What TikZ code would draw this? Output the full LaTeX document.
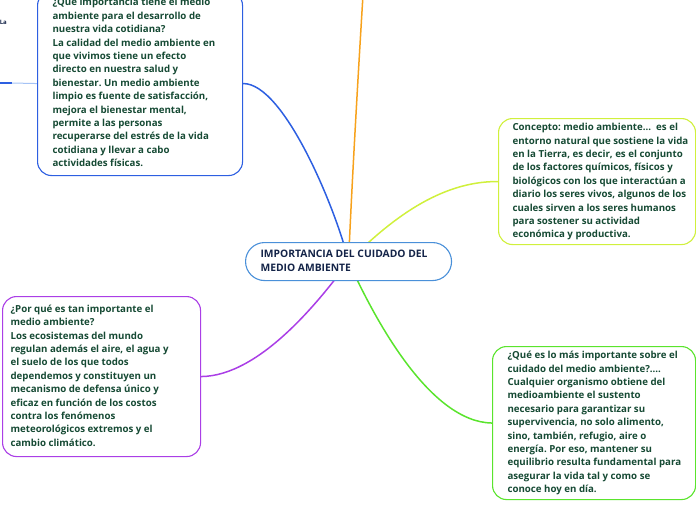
\documentclass[tikz,border=0pt]{standalone}
\usepackage{fontspec}
\setmainfont{Open Sans}
\usetikzlibrary{backgrounds}
\frenchspacing
\definecolor{txtgreen}{RGB}{22,74,52}
\definecolor{txtnavy}{RGB}{20,36,72}
\definecolor{cborder}{RGB}{74,144,217}
\definecolor{bblue}{RGB}{45,95,225}
\definecolor{lblue}{RGB}{165,195,245}
\definecolor{corange}{RGB}{247,162,28}
\definecolor{cyellow}{RGB}{208,240,60}
\definecolor{cgreen}{RGB}{90,228,45}
\definecolor{cpurple}{RGB}{170,62,230}
\newcommand\boxtext[2]{\makebox[#1][l]{\begin{tabular}{@{}l@{}}#2\end{tabular}}}
\tikzset{
  box/.style={draw, line width=1.1pt, rounded corners=14pt, fill=white,
    anchor=north west, text=txtgreen, inner ysep=0pt,
    font=\bfseries\fontsize{9.7}{13.4}\selectfont},
  conn/.style={line width=1.5pt},
}
\begin{document}
\begin{tikzpicture}[x=1pt,y=-1pt]
\useasboundingbox (0,0) rectangle (696,520);

\node[box, draw=cborder, text=txtnavy, rounded corners=19pt, inner xsep=15pt,
  minimum width=206pt, minimum height=38pt,
  font=\bfseries\fontsize{10.3}{14}\selectfont] (c) at (245,242)
  {\boxtext{176pt}{IMPORTANCIA DEL CUIDADO DEL\\MEDIO AMBIENTE}};

\node[box, draw=bblue, inner xsep=15pt, minimum width=205pt,
  minimum height=184pt] (tl) at (37,-9)
  {\boxtext{175pt}{¿Qué importancia tiene el medio\\ambiente para el desarrollo de\\nuestra vida cotidiana?\\La calidad del medio ambiente en\\que vivimos tiene un efecto\\directo en nuestra salud y\\bienestar. Un medio ambiente\\limpio es fuente de satisfacción,\\mejora el bienestar mental,\\permite a las personas\\recuperarse del estrés de la vida\\cotidiana y llevar a cabo\\actividades físicas.}};

\node[box, draw=cyellow, inner xsep=14pt, minimum width=197pt,
  minimum height=126pt] (tr) at (498,118)
  {\boxtext{169pt}{Concepto: medio ambiente...\ \ es el\\entorno natural que sostiene la vida\\en la Tierra, es decir, es el conjunto\\de los factores químicos, físicos y\\biológicos con los que interactúan a\\diario los seres vivos, algunos de los\\cuales sirven a los seres humanos\\para sostener su actividad\\económica y productiva.}};

\node[box, draw=cgreen, inner xsep=15pt, minimum width=203pt,
  minimum height=153pt] (br) at (492,346)
  {\boxtext{173pt}{¿Qué es lo más importante sobre el\\cuidado del medio ambiente?....\\Cualquier organismo obtiene del\\medioambiente el sustento\\necesario para garantizar su\\supervivencia, no solo alimento,\\sino, también, refugio, aire o\\energía. Por eso, mantener su\\equilibrio resulta fundamental para\\asegurar la vida tal y como se\\conoce hoy en día.}};

\node[box, draw=cpurple, inner xsep=8pt, minimum width=198pt,
  minimum height=160pt] (bl) at (2,296)
  {\boxtext{182pt}{¿Por qué es tan importante el\\medio ambiente?\\Los ecosistemas del mundo\\regulan además el aire, el agua y\\el suelo de los que todos\\dependemos y constituyen un\\mecanismo de defensa único y\\eficaz en función de los costos\\contra los fenómenos\\meteorológicos extremos y el\\cambio climático.}};

\node[anchor=east, font=\bfseries\fontsize{6}{7}\selectfont, text=txtnavy, inner sep=0pt] (la) at (7,22) {La};

\coordinate (otop) at (363,-5);
\coordinate (lend) at (0,83);
\coordinate (lmid) at (12,83);

\begin{scope}[on background layer]
  \draw[conn, bblue] (c.center) .. controls (338,215) and (285,83) .. (tl.east);
  \draw[conn, corange] (c.center) .. controls (352,180) and (359,60) .. (otop);
  \draw[conn, cyellow] (c.center) .. controls (390,220) and (440,181) .. (tr.west);
  \draw[conn, cgreen] (c.center) .. controls (375,320) and (430,422) .. (br.west);
  \draw[conn, cpurple] (c.center) .. controls (320,300) and (260,376) .. (bl.east);
  \draw[line width=1.5pt, bblue] (lend) -- (lmid);
  \draw[line width=1pt, lblue] (lmid) -- (tl.west);
\end{scope}
\end{tikzpicture}
\end{document}
